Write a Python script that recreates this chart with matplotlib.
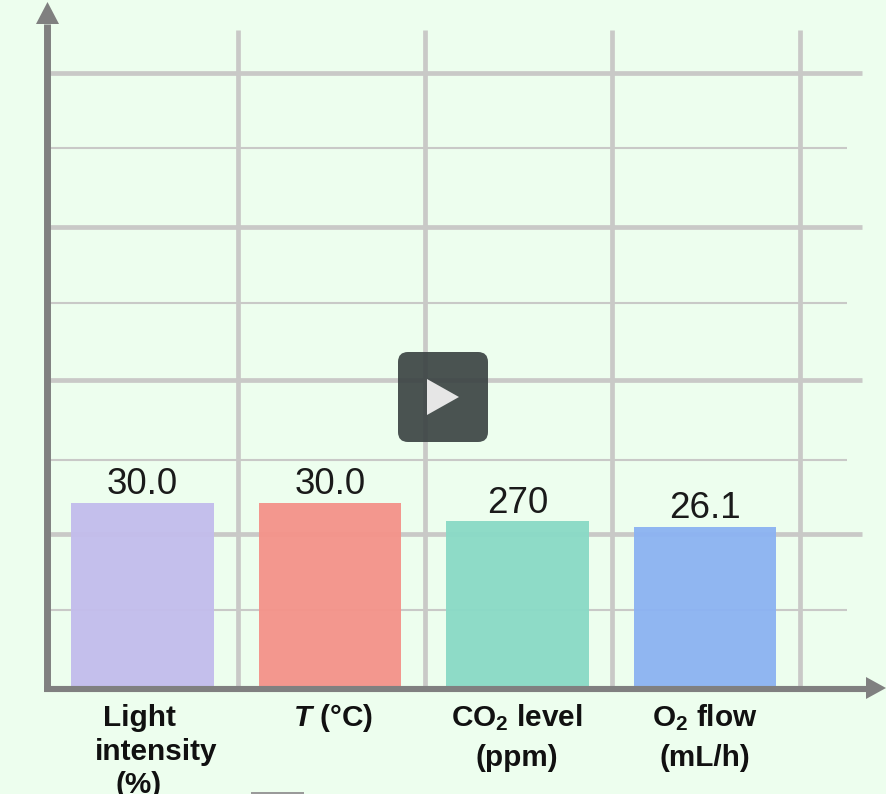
import numpy as np
import matplotlib
matplotlib.use("Agg")
import matplotlib.pyplot as plt
from matplotlib.patches import FancyBboxPatch, Polygon, Rectangle

plt.rcParams['font.family'] = ['Liberation Sans', 'DejaVu Sans']
plt.rcParams['mathtext.fontset'] = 'custom'
plt.rcParams['mathtext.rm'] = 'Liberation Sans'
plt.rcParams['mathtext.bf'] = 'Liberation Sans:bold'
plt.rcParams['mathtext.bfit'] = 'Liberation Sans:italic:bold'

# readings shown above the bars, CO2 is drawn at a tenth of its ppm value
value_labels = ["30.0", "30.0", "270", "26.1"]
readings = [30.0, 30.0, 270, 26.1]
bar_scale = [1, 1, 0.1, 1]
bar_colors = ["#c3bdec", "#f4938a", "#8adac6", "#8cb3f2"]

major_y = [25, 50, 75, 100]
minor_y = [12.5, 37, 62.6, 87.8]
grid_x = [0.51, 1.508, 2.505, 3.508]

cat_labels = [
    ["Light", "intensity", "(%)"],
    [r"$\mathbfit{T}$ (°C)"],
    [r"$\mathbf{CO_2}$ level", "(ppm)"],
    [r"$\mathbf{O_2}$ flow", "(mL/h)"],
]
cat_x = [[139, 156, 139], [333], [517, 517], [705, 705]]
cat_y = [[718, 752, 785], [718], [718, 758], [718, 758]]

W, H = 886, 794
BG = "#edfeee"
GRID = "#c9c9c7"
AXIS = "#808080"

fig = plt.figure(figsize=(W / 100, H / 100), dpi=100, facecolor=BG)

# data axes fill the figure, limits chosen so 0 sits on the x axis line
ax = fig.add_axes([0, 0, 1, 1])
ax.set_xlim(-142.5 / 187.5, (W - 142.5) / 187.5)
ax.set_ylim(-(H - 687) / 6.14, 687 / 6.14)
ax.axis("off")

x_left = (47 - 142.5) / 187.5
x_major_end = (862 - 142.5) / 187.5
x_minor_end = (847 - 142.5) / 187.5
y_grid_top = (687 - 30) / 6.14

for y in major_y:
    ax.plot([x_left, x_major_end], [y, y], color=GRID, lw=3.4, zorder=1, solid_capstyle="butt")
for y in minor_y:
    ax.plot([x_left, x_minor_end], [y, y], color=GRID, lw=1.5, zorder=1, solid_capstyle="butt")
for x in grid_x:
    ax.plot([x, x], [0, y_grid_top], color=GRID, lw=3.4, zorder=1, solid_capstyle="butt")

heights = np.array(readings) * np.array(bar_scale)
xs = np.arange(len(readings))
ax.bar(xs, heights, width=0.76, color=bar_colors, alpha=0.96, zorder=2)

for x, h, s in zip(xs, heights, value_labels):
    ax.annotate(s, (x, h), xytext=(0, 0.5), textcoords="offset points", ha="center", va="bottom",
                fontsize=26.5, color="#1a1a1a", zorder=5)

# overlay in pixel coordinates for the arrows, labels and play button
ov = fig.add_axes([0, 0, 1, 1])
ov.set_xlim(0, W)
ov.set_ylim(H, 0)
ov.axis("off")
ov.patch.set_alpha(0)

ov.plot([47.5, 47.5], [24, 691], color=AXIS, lw=5, solid_capstyle="butt", zorder=3)
ov.plot([44, 866], [688.5, 688.5], color=AXIS, lw=4.4, solid_capstyle="butt", zorder=3)
ov.add_patch(Polygon([[47.5, 2], [36, 24], [59, 24]], closed=True, color=AXIS, lw=0, zorder=3))
ov.add_patch(Polygon([[886, 688], [866, 677], [866, 699]], closed=True, color=AXIS, lw=0, zorder=3))

for lines, lx, ly in zip(cat_labels, cat_x, cat_y):
    for s, px, py in zip(lines, lx, ly):
        ov.text(px, py, s, ha="center", va="center", fontsize=21.4, fontweight="bold",
                color="#111111", zorder=5)

ov.add_patch(Rectangle((251, 792), 53, 2, color="#9a9a9a", lw=0, zorder=3))

button = FancyBboxPatch((404, 358), 78, 78, boxstyle="round,pad=6,rounding_size=10",
                        mutation_scale=1, lw=0, zorder=6, facecolor="#3c4444", alpha=0.92)
ov.add_patch(button)
ov.add_patch(Polygon([[427, 379], [427, 415], [459, 397]], closed=True, color="#e6e6e6", lw=0, zorder=7))

fig.savefig("out.png", dpi=100, facecolor=BG)
